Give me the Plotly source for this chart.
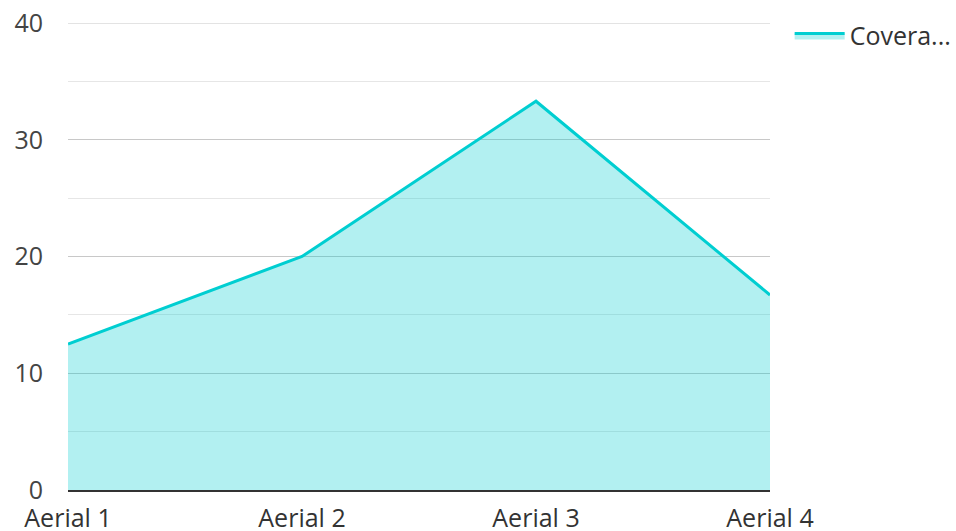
import plotly.graph_objects as go

categories = ["Aerial 1", "Aerial 2", "Aerial 3", "Aerial 4"]
coverage = [12.5, 20.0, 33.3, 16.7]
series_name = "Covera..."
y_ticks = [0, 10, 20, 30, 40]
y_max = 40

fig = go.Figure()
fig.add_trace(go.Scatter(
    x=list(range(len(categories))),
    y=coverage,
    mode="lines",
    name=series_name,
    fill="tozeroy",
    line=dict(color="#00CED1", width=3),
    fillcolor="rgba(0,206,209,0.3)",
))

# top gridline at the range edge
fig.add_shape(type="line", xref="paper", yref="y", x0=0, x1=1, y0=y_max, y1=y_max,
              line=dict(color="#c8c8c8", width=1), layer="below")

fig.update_layout(
    width=956, height=531,
    margin=dict(l=68, r=186, t=23, b=41, autoexpand=False),
    paper_bgcolor="white", plot_bgcolor="white",
    font=dict(family="Open Sans", size=25, color="#444"),
    showlegend=True,
    legend=dict(x=1.028, y=1.022, xanchor="left", yanchor="top",
                font=dict(size=25, color="#333"), bgcolor="rgba(0,0,0,0)",
                itemwidth=50),
    xaxis=dict(
        range=[0, 3],
        tickmode="array",
        tickvals=list(range(len(categories))),
        ticktext=categories,
        showgrid=False,
        showline=True, linecolor="#333", linewidth=2,
        zeroline=False,
        ticks="", ticklen=0,
        automargin=False,
        tickfont=dict(size=25, color="#333"),
        ticklabelstandoff=5,
    ),
    yaxis=dict(
        range=[0, y_max],
        tickmode="array",
        tickvals=y_ticks,
        showgrid=True, gridcolor="#c8c8c8", gridwidth=1,
        minor=dict(dtick=5, showgrid=True, gridcolor="#e6e6e6", gridwidth=1),
        zeroline=False,
        showline=False,
        ticks="",
        automargin=False,
        tickfont=dict(size=25, color="#444"),
        ticklabelstandoff=24,
    ),
)

fig.write_html("out.html", config={"displayModeBar": False},
               post_script="document.body.style.margin='0';")
